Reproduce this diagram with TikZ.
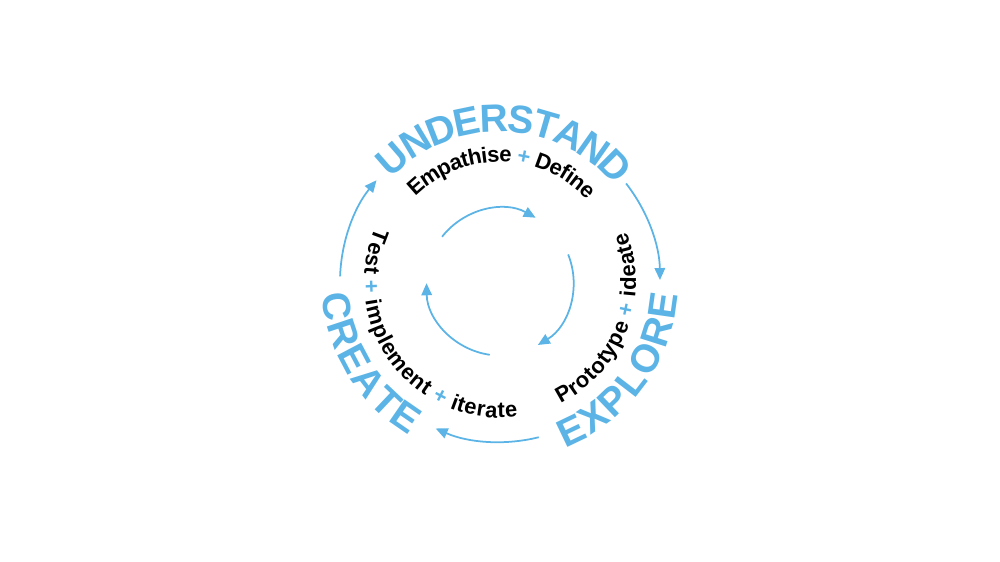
\documentclass[tikz,border=0pt]{standalone}
\usepackage{fontspec}
\setmainfont{Liberation Sans}
\usepackage{xcolor}
\usetikzlibrary{arrows.meta,decorations.text}
\definecolor{cycblue}{RGB}{91,180,229}
\newcommand{\bigword}{\fontsize{22.3pt}{26pt}\selectfont\bfseries\color{cycblue}}
\newcommand{\smallword}{\fontsize{12.5pt}{15pt}\selectfont\bfseries\color{black}}
\newcommand{\smallplus}{\fontsize{12.5pt}{15pt}\selectfont\bfseries\color{cycblue}}

\begin{document}
\begin{tikzpicture}[
    cyc/.style={-{Triangle[length=2.4mm,width=2.1mm]}, draw=cycblue, line width=1pt},
    bigtext/.style={decorate, decoration={text along path, text align=center, raise=-8pt, text={#1}}},
    smalltext/.style={decorate, decoration={text along path, text align=center, raise=-4.5pt, text={#1}}}
]
    \useasboundingbox (-10,-5.6) rectangle (10,5.64);
    \coordinate (c) at (0,0);

    % Outer cycle
    \coordinate (o1) at (178:3.2);
    \coordinate (o2) at (38:3.2);
    \coordinate (o3) at (284:3.2);
    \draw[cyc] (o1) arc[start angle=178, end angle=140.5, radius=3.2];
    \draw[cyc] (o2) arc[start angle=38, end angle=0.7, radius=3.2];
    \draw[cyc] (o3) arc[start angle=284, end angle=246.3, radius=3.2];

    % Inner cycle
    \coordinate (i1) at (142:1.47);
    \coordinate (i2) at (22:1.47);
    \coordinate (i3) at (262:1.47);
    \draw[cyc] (i1) arc[start angle=142, end angle=61, radius=1.47];
    \draw[cyc] (i2) arc[start angle=22, end angle=-59, radius=1.47];
    \draw[cyc] (i3) arc[start angle=262, end angle=181, radius=1.47];

    % Understand
    \coordinate (u1) at (158:3.28);
    \coordinate (u2) at (159:2.56);
    \path[bigtext={|\bigword|UNDERSTAND}] (u1) arc[start angle=158, end angle=18, radius=3.28];
    \path[smalltext={|\smallword|Empathise |\smallplus|+|\smallword| Define}] (u2) arc[start angle=159, end angle=19, radius=2.56];

    % Explore
    \coordinate (e1) at (-96.3:3.28);
    \coordinate (e2) at (-91:2.56);
    \path[bigtext={|\bigword|EXPLORE}] (e1) arc[start angle=-96.3, end angle=23.7, radius=3.28];
    \path[smalltext={|\smallword|Prototype |\smallplus|+|\smallword| ideate}] (e2) arc[start angle=-91, end angle=49, radius=2.56];

    % Create
    \coordinate (k1) at (151.7:3.28);
    \coordinate (k2) at (137:2.56);
    \path[bigtext={|\bigword|CREATE}] (k1) arc[start angle=151.7, end angle=271.7, radius=3.28];
    \path[smalltext={|\smallword|Test |\smallplus|+|\smallword| implement |\smallplus|+|\smallword| iterate}] (k2) arc[start angle=137, end angle=297, radius=2.56];
\end{tikzpicture}
\end{document}
